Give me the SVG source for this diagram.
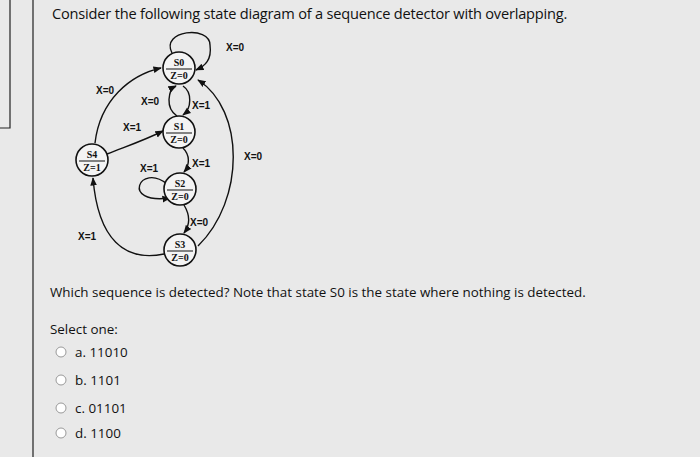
<svg xmlns="http://www.w3.org/2000/svg" width="700" height="457" viewBox="0 0 700 457">
<defs>
<style>
.t{font-family:"Open Sans","Noto Sans",sans-serif;font-size:13.4px;fill:#111}
.s{font-family:"Liberation Serif",serif;font-size:10px;font-weight:bold;fill:#111;text-anchor:middle}
.l{font-family:"Liberation Sans",sans-serif;font-size:10px;font-weight:bold;fill:#111}
.n{fill:#f4f4f4;stroke:#111;stroke-width:1.6}
.e{fill:none;stroke:#111;stroke-width:1.4;marker-end:url(#a)}
.r{fill:#fff;stroke:#999;stroke-width:1}
</style>
<marker id="a" viewBox="0 0 10 10" refX="9" refY="5" markerWidth="6" markerHeight="6" orient="auto"><path d="M0,1 L10,5 L0,9z" fill="#111"/></marker>
</defs>
<rect width="700" height="457" fill="#e9e9e9"/>
<path d="M10,0 V128 H0 M33,0 V457" stroke="#222" stroke-width="1.2" fill="none"/>
<text class="t" x="52" y="19" style="font-size:14.6px;letter-spacing:-0.2px">Consider the following state diagram of a sequence detector with overlapping.</text>
<g id="edges">
<path class="e" d="M172,53 C160,30 210,25 210,45 C212,60 205,66 196,70"/>
<path class="e" d="M177,116 C165,108 168,90 176,86"/>
<path class="e" d="M183,86 C192,92 192,108 183,115"/>
<path class="e" d="M183,148 C190,155 190,165 184,172"/>
<path class="e" d="M167,184 C140,162 120,205 170,198"/>
<path class="e" d="M184,205 C190,215 190,225 184,233"/>
<path class="e" d="M107,154 C130,145 145,140 163,131"/>
<path class="e" d="M95,143 C100,100 130,75 161,68"/>
<path class="e" d="M164,254 C125,262 98,240 93,178"/>
<path class="e" d="M198,246 C245,200 245,110 198,80"/>
</g>
<g class="l">
<text x="226" y="51">X=0</text>
<text x="96" y="94">X=0</text>
<text x="141" y="105">X=0</text>
<text x="192" y="109">X=1</text>
<text x="123" y="131">X=1</text>
<text x="192" y="167">X=1</text>
<text x="244" y="160">X=0</text>
<text x="140" y="172">X=1</text>
<text x="190" y="226">X=0</text>
<text x="78" y="240">X=1</text>
</g>
<g id="S0"><circle class="n" cx="179" cy="68" r="16"/><text class="s" x="179" y="66">S0</text><line x1="166" y1="69" x2="192" y2="69" stroke="#111"/><text class="s" x="179" y="79">Z=0</text></g>
<g id="S1"><circle class="n" cx="179" cy="132" r="16"/><text class="s" x="179" y="130">S1</text><line x1="166" y1="133" x2="192" y2="133" stroke="#111"/><text class="s" x="179" y="143">Z=0</text></g>
<g id="S4"><circle class="n" cx="92" cy="160" r="16"/><text class="s" x="92" y="158">S4</text><line x1="79" y1="161" x2="105" y2="161" stroke="#111"/><text class="s" x="92" y="171">Z=1</text></g>
<g id="S2"><circle class="n" cx="180" cy="189" r="16"/><text class="s" x="180" y="187">S2</text><line x1="167" y1="190" x2="193" y2="190" stroke="#111"/><text class="s" x="180" y="200">Z=0</text></g>
<g id="S3"><circle class="n" cx="180" cy="250" r="16"/><text class="s" x="180" y="248">S3</text><line x1="167" y1="251" x2="193" y2="251" stroke="#111"/><text class="s" x="180" y="261">Z=0</text></g>
<text class="t" x="50" y="297">Which sequence is detected? Note that state S0 is the state where nothing is detected.</text>
<text class="t" x="50" y="334">Select one:</text>
<circle class="r" cx="61" cy="352" r="5"/><text class="t" x="75" y="357">a. 11010</text>
<circle class="r" cx="61" cy="380" r="5"/><text class="t" x="75" y="385">b. 1101</text>
<circle class="r" cx="61" cy="408" r="5"/><text class="t" x="75" y="413">c. 01101</text>
<circle class="r" cx="61" cy="433" r="5"/><text class="t" x="75" y="438">d. 1100</text>
</svg>
